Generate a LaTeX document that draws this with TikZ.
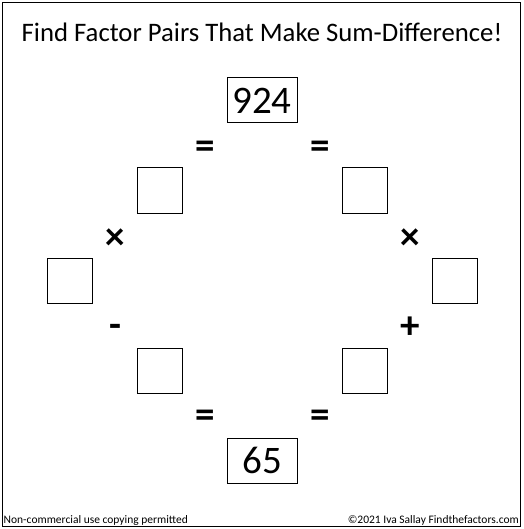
\documentclass[tikz,border=0pt]{standalone}
\usepackage{fontspec}
\setmainfont{Carlito}
\begin{document}
\begin{tikzpicture}[x=1pt,y=-1pt,
  sq/.style={draw,line width=1pt,minimum width=45pt,minimum height=45pt,inner sep=0pt},
  numbox/.style={draw,line width=1pt,minimum width=70pt,minimum height=45pt,inner sep=0pt,font=\fontsize{39}{39}\selectfont},
  sym/.style={inner sep=0pt,font=\fontsize{39}{39}\selectfont\bfseries},
  foot/.style={inner sep=0pt,font=\fontsize{11.5}{12}\selectfont}]
\useasboundingbox (0,0) rectangle (523,529);
\node[draw,line width=0.8pt,minimum width=517.5pt,minimum height=524pt,inner sep=0pt] (frame) at (261.25,264) {};
\node[inner sep=0pt,font=\fontsize{26.7}{28}\selectfont,anchor=base] (title) at (262,42) {Find Factor Pairs That Make Sum-Difference!};
\node[numbox] (top) at (262,100.5) {924};
\node[numbox] (bot) at (262,460.5) {65};
\node[sq] (ul) at (159.5,190.5) {};
\node[sq] (ur) at (364.5,190.5) {};
\node[sq] (l) at (69.5,280.5) {};
\node[sq] (r) at (454.5,280.5) {};
\node[sq] (ll) at (159.5,370.5) {};
\node[sq] (lr) at (364.5,370.5) {};
\node[sym] (e1) at (205.5,150) {=};
\node[sym] (e2) at (320,150) {=};
\node[sym] (t1) at (115,239) {×};
\node[sym] (t2) at (410,239) {×};
\node[sym] (m) at (115,331) {-};
\node[sym] (p) at (410,328) {+};
\node[sym] (e3) at (205.5,419) {=};
\node[sym] (e4) at (320,419) {=};
\node[foot,anchor=base west] (fl) at (3.5,523) {Non-commercial use copying permitted};
\node[foot,anchor=base east] (fr) at (519,523) {©2021 Iva Sallay Findthefactors.com};
\end{tikzpicture}
\end{document}
